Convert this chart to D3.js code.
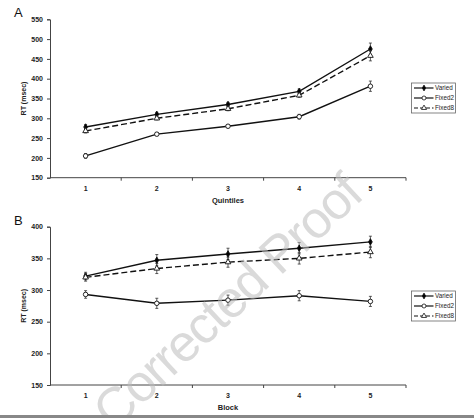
<!DOCTYPE html>
<html>
<head>
<meta charset="utf-8">
<script src="https://cdn.jsdelivr.net/npm/d3@7"></script>
<style>
  body { margin: 0; background: #fff; }
  text { font-family: Arial, "Liberation Sans", sans-serif; }
</style>
</head>
<body>
<div id="chart"></div>
<script>
var categories = [1, 2, 3, 4, 5];
var seriesNames = ["Varied", "Fixed2", "Fixed8"];

// panel A (quintiles)
var aVaried = [278, 310, 335, 368, 475];
var aFixed2 = [205, 260, 280, 304, 381];
var aFixed8 = [268, 300, 324, 358, 458];
var aVariedErr = [6, 5, 5, 6, 15];
var aFixed2Err = [6, 4, 4, 6, 13];
var aFixed8Err = [5, 4, 5, 5, 13];
var aTicks = [150, 200, 250, 300, 350, 400, 450, 500, 550];

// panel B (block)
var bVaried = [322, 347, 357, 366, 376];
var bFixed2 = [293, 279, 284, 291, 282];
var bFixed8 = [320, 334, 344, 350, 360];
var bVariedErr = [6, 9, 9, 9, 9];
var bFixed2Err = [6, 8, 8, 8, 8];
var bFixed8Err = [6, 8, 8, 9, 9];
var bTicks = [150, 200, 250, 300, 350, 400];

var width = 474, height = 418;
var svg = d3.select("#chart").append("svg")
    .attr("width", width)
    .attr("height", height);

var x = d3.scaleBand().domain(categories).range([50, 406]).padding(0);

var styles = {
    Varied: {dash: null, symbol: d3.symbolDiamond, size: 12, fill: "#000"},
    Fixed2: {dash: null, symbol: d3.symbolCircle, size: 16, fill: "#fff"},
    Fixed8: {dash: "6,3", symbol: d3.symbolTriangle, size: 14, fill: "#fff"}
};

function drawPanel(opt) {
    var y = d3.scaleLinear().domain([150, opt.max]).range([opt.bottom, opt.top]);
    var g = svg.append("g");

    // y axis
    g.append("g")
        .attr("transform", "translate(50,0)")
        .call(d3.axisLeft(y).tickValues(opt.ticks).tickSize(3).tickPadding(4))
        .call(function (a) {
            a.select(".domain").attr("stroke", "#444");
            a.selectAll(".tick line").attr("stroke", "#444");
            a.selectAll("text").attr("font-size", 7).attr("font-weight", "bold").attr("fill", "#222");
        });

    // x axis: ticks sit between categories
    g.append("line")
        .attr("x1", 50).attr("x2", 406)
        .attr("y1", opt.bottom).attr("y2", opt.bottom)
        .attr("stroke", "#444");
    g.selectAll(".xt").data(categories).enter().append("line")
        .attr("x1", function (d) { return x(d) + x.bandwidth(); })
        .attr("x2", function (d) { return x(d) + x.bandwidth(); })
        .attr("y1", opt.bottom).attr("y2", opt.bottom + 3)
        .attr("stroke", "#444");
    g.selectAll(".xl").data(categories).enter().append("text")
        .attr("x", function (d) { return x(d) + x.bandwidth() / 2; })
        .attr("y", opt.bottom + 13)
        .attr("text-anchor", "middle")
        .attr("font-size", 7).attr("font-weight", "bold").attr("fill", "#222")
        .text(function (d) { return d; });

    g.append("text")
        .attr("x", x(3) + x.bandwidth() / 2)
        .attr("y", opt.bottom + 25)
        .attr("text-anchor", "middle")
        .attr("font-size", 7.5).attr("font-weight", "bold").attr("fill", "#222")
        .text(opt.xlabel);

    g.append("text")
        .attr("transform", "translate(26," + ((opt.top + opt.bottom) / 2) + ") rotate(-90)")
        .attr("text-anchor", "middle")
        .attr("font-size", 7).attr("font-weight", "bold").attr("fill", "#222")
        .text("RT (msec)");

    g.append("text")
        .attr("x", 14).attr("y", opt.top - 2)
        .attr("font-size", 13).attr("fill", "#111")
        .text(opt.letter);

    var line = d3.line()
        .x(function (d, i) { return x(categories[i]) + x.bandwidth() / 2; })
        .y(function (d) { return y(d); });

    opt.series.forEach(function (s) {
        var st = styles[s.name];
        var sg = g.append("g");
        sg.append("path")
            .datum(s.values)
            .attr("d", line)
            .attr("fill", "none")
            .attr("stroke", "#111")
            .attr("stroke-width", 1.4)
            .attr("stroke-dasharray", st.dash);
        s.values.forEach(function (v, i) {
            var cx = x(categories[i]) + x.bandwidth() / 2;
            var e = s.err[i];
            sg.append("path")
                .attr("d", "M" + cx + "," + y(v + e) + "V" + y(v - e) +
                    "M" + (cx - 1.5) + "," + y(v + e) + "H" + (cx + 1.5) +
                    "M" + (cx - 1.5) + "," + y(v - e) + "H" + (cx + 1.5))
                .attr("stroke", "#333").attr("stroke-width", 0.8).attr("fill", "none");
            sg.append("path")
                .attr("d", d3.symbol().type(st.symbol).size(st.size)())
                .attr("transform", "translate(" + cx + "," + y(v) + ")")
                .attr("fill", st.fill)
                .attr("stroke", "#111")
                .attr("stroke-width", 0.9);
        });
    });

    // legend
    var lg = g.append("g").attr("transform", "translate(411.5," + opt.legendY + ")");
    lg.append("rect")
        .attr("width", 44).attr("height", 30)
        .attr("fill", "#fff").attr("stroke", "#666").attr("stroke-width", 0.8);
    seriesNames.forEach(function (name, i) {
        var st = styles[name];
        var ly = 5 + i * 10;
        lg.append("line")
            .attr("x1", 2.5).attr("x2", 22)
            .attr("y1", ly).attr("y2", ly)
            .attr("stroke", "#111").attr("stroke-width", 1.2)
            .attr("stroke-dasharray", st.dash ? "4,2" : null);
        lg.append("path")
            .attr("d", d3.symbol().type(st.symbol).size(st.size * 0.8)())
            .attr("transform", "translate(12.5," + ly + ")")
            .attr("fill", st.fill).attr("stroke", "#111").attr("stroke-width", 0.8);
        lg.append("text")
            .attr("x", 23.5).attr("y", ly + 2.2)
            .attr("font-size", 6.3).attr("fill", "#222")
            .text(name);
    });
}

drawPanel({
    letter: "A", xlabel: "Quintiles", max: 550, ticks: aTicks,
    top: 19.3, bottom: 177.7, legendY: 83,
    series: [
        {name: "Varied", values: aVaried, err: aVariedErr},
        {name: "Fixed2", values: aFixed2, err: aFixed2Err},
        {name: "Fixed8", values: aFixed8, err: aFixed8Err}
    ]
});

drawPanel({
    letter: "B", xlabel: "Block", max: 400, ticks: bTicks,
    top: 226.7, bottom: 385, legendY: 291,
    series: [
        {name: "Varied", values: bVaried, err: bVariedErr},
        {name: "Fixed2", values: bFixed2, err: bFixed2Err},
        {name: "Fixed8", values: bFixed8, err: bFixed8Err}
    ]
});

// watermark
svg.append("text")
    .attr("transform", "translate(240,314) rotate(-43)")
    .attr("text-anchor", "middle")
    .attr("font-size", 52)
    .attr("fill", "#bbb")
    .attr("fill-opacity", 0.55)
    .attr("textLength", 345)
    .text("Corrected Proof");

// bottom strip
svg.append("rect")
    .attr("x", 0).attr("y", 415)
    .attr("width", width).attr("height", 3)
    .attr("fill", "#888");
</script>
</body>
</html>
